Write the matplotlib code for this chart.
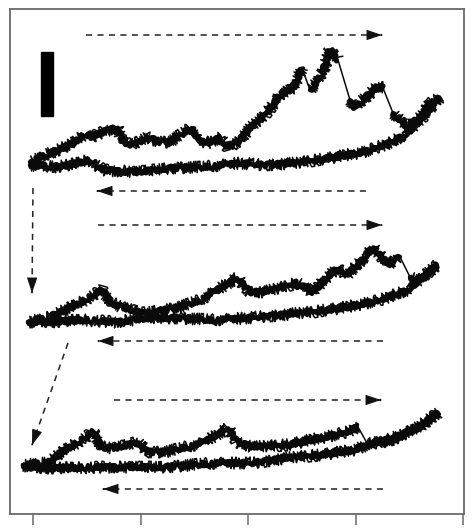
import matplotlib
matplotlib.use("Agg")
import matplotlib.pyplot as plt
from matplotlib.patches import Rectangle

# ---- data (in the chart's own units; y grows downward) ----
tick_ext = [33, 141, 248, 356, 463]

# Trace 1 - extension (pulling) path, split at rupture events
t1_ext_x = [
    [30, 42, 53, 70, 87, 92, 103, 117, 123, 133, 147, 160, 170, 180, 192, 197, 207, 220, 228, 240, 250, 263, 273, 280, 293, 302],
    [310, 317, 323, 330, 338],
    [350, 355, 363, 377, 383],
    [393, 400, 405, 410, 423, 430, 440],
]
t1_ext_y = [
    [162, 157, 152, 145, 133, 137, 132, 127, 142, 145, 137, 142, 142, 135, 127, 140, 143, 138, 148, 140, 128, 117, 105, 95, 88, 68],
    [90, 82, 72, 50, 60],
    [100, 108, 100, 87, 88],
    [113, 120, 125, 125, 115, 103, 98],
]
# Trace 1 - relaxation path
t1_rel_x = [30, 53, 70, 90, 103, 137, 170, 203, 240, 263, 297, 330, 363, 390, 407, 423, 440]
t1_rel_y = [165, 167, 165, 160, 170, 172, 168, 167, 163, 165, 163, 158, 152, 143, 133, 117, 98]

# Trace 2
t2_ext_x = [
    [28, 48, 65, 82, 102, 112, 122, 142, 165, 180, 200, 217, 237, 250, 263, 280, 297, 313, 327, 337, 347, 360, 373, 380, 388, 400],
    [410, 420, 437],
]
t2_ext_y = [
    [322, 318, 310, 302, 290, 303, 307, 313, 310, 307, 300, 290, 278, 292, 292, 288, 283, 292, 277, 268, 275, 262, 247, 255, 265, 257],
    [277, 280, 265],
]
t2_rel_x = [28, 48, 82, 115, 148, 180, 213, 247, 280, 313, 347, 380, 407, 423, 437]
t2_rel_y = [322, 322, 320, 322, 318, 318, 320, 318, 315, 312, 307, 300, 290, 277, 265]

# Trace 3
t3_ext_x = [
    [23, 48, 65, 82, 93, 102, 115, 138, 148, 165, 182, 202, 220, 228, 237, 253, 287, 320, 347, 358],
    [367, 387, 407, 420, 438],
]
t3_ext_y = [
    [465, 463, 450, 440, 432, 447, 448, 442, 452, 452, 448, 443, 433, 428, 442, 447, 445, 438, 432, 427],
    [443, 442, 433, 427, 413],
]
t3_rel_x = [23, 32, 65, 115, 165, 215, 253, 287, 320, 353, 367, 387, 407, 420, 438]
t3_rel_y = [465, 468, 468, 467, 467, 463, 463, 458, 455, 450, 445, 440, 432, 426, 413]

# direction arrows: (x_start, y_start, x_end, y_end)
arrows = [
    (86, 35, 382, 35),
    (366, 191, 97, 191),
    (33, 188, 32, 293),
    (98, 225, 382, 225),
    (383, 341, 98, 341),
    (68, 343, 32, 445),
    (114, 400, 381, 400),
    (383, 489, 103, 489),
]

# scale bar (x0, y0, width, height)
scale_bar = (41, 52, 12, 64)

# ---- figure ----
W, H = 474, 532
fig = plt.figure(figsize=(W / 100, H / 100), dpi=100)
ax = fig.add_axes([10 / W, 18 / H, 454 / W, 505 / H])
ax.set_xlim(10, 464)
ax.set_ylim(514, 9)

INK = "#0a0a0a"


def noisy(x, y):
    # thick base band plus a spiky overlay to mimic the recorded noise
    base, = ax.plot(x, y, color=INK, lw=3.2, solid_capstyle="round",
                    solid_joinstyle="round", zorder=3)
    base.set_sketch_params(scale=2.4, length=1.5, randomness=4)
    spiky, = ax.plot(x, y, color=INK, lw=1.1, zorder=3)
    spiky.set_sketch_params(scale=6.0, length=0.6, randomness=3)


def trace(ext_x, ext_y, rel_x, rel_y):
    noisy(rel_x, rel_y)
    for i, (sx, sy) in enumerate(zip(ext_x, ext_y)):
        noisy(sx, sy)
        if i + 1 < len(ext_x):
            ax.plot([sx[-1], ext_x[i + 1][0]], [sy[-1], ext_y[i + 1][0]],
                    color=INK, lw=1.1, zorder=3)


trace(t1_ext_x, t1_ext_y, t1_rel_x, t1_rel_y)
trace(t2_ext_x, t2_ext_y, t2_rel_x, t2_rel_y)
trace(t3_ext_x, t3_ext_y, t3_rel_x, t3_rel_y)

for (x0, y0, x1, y1) in arrows:
    ax.plot([x0, x1], [y0, y1], color="#222222", lw=1.1,
            linestyle=(0, (4, 3.5)), zorder=2)
    # solid filled head
    fx = x1 - (x1 - x0) * 0.001
    fy = y1 - (y1 - y0) * 0.001
    ax.annotate("", xy=(x1, y1), xytext=(fx, fy),
                arrowprops=dict(arrowstyle="-|>,head_length=0.95,head_width=0.32",
                                color="#111111", lw=0.8, shrinkA=0, shrinkB=0),
                zorder=2)

bx, by, bw, bh = scale_bar
ax.add_patch(Rectangle((bx, by), bw, bh, facecolor="black", edgecolor="black", zorder=3))

for s in ax.spines.values():
    s.set_color("#6a6a6a")
    s.set_linewidth(1.3)
ax.set_xticks(tick_ext)
ax.set_xticklabels([])
ax.set_yticks([])
ax.tick_params(axis="x", direction="out", length=8, width=1.1, color="#6a6a6a")

fig.savefig("out.png", dpi=100, facecolor="white")
